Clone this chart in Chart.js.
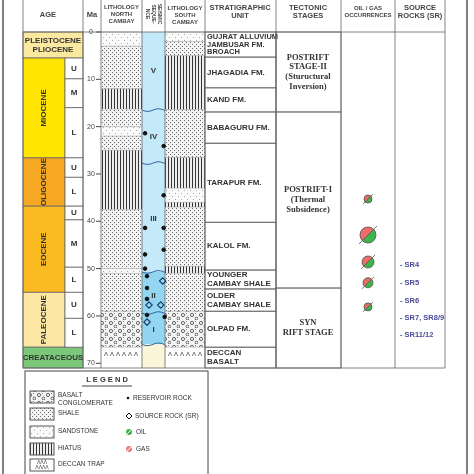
<!DOCTYPE html>
<html><head><meta charset="utf-8">
<script src="https://cdn.jsdelivr.net/npm/chart.js@4"></script>
<style>html,body{margin:0;padding:0;background:#fff}#c{display:block}</style>
</head><body><canvas id="c" width="474" height="474"></canvas>
<script>
// ---- DATA ----
const maTicks=[0,10,20,30,40,50,60,70];
const epochs=[{n:'PLEISTOCENE\nPLIOCENE',a:0,b:5.5,c:'#FBE9A0',full:true},{n:'MIOCENE',a:5.5,b:26.6,c:'#FFE500'},{n:'OLIGOCENE',a:26.6,b:36.8,c:'#F7A823'},{n:'EOCENE',a:36.8,b:55,c:'#F9BA22'},{n:'PALEOCENE',a:55,b:66.6,c:'#FCE8A4'},{n:'CREATACEOUS',a:66.6,b:71,c:'#7CC87A',full:true}];
const subEpochs=[['U',5.5,9.9],['M',9.9,16],['L',16,26.6],['U',26.6,30.7],['L',30.7,36.8],['U',36.8,39.7],['M',39.7,49.7],['L',49.7,55],['U',55,60.5],['L',60.5,66.6]];
const stratUnits=[['GUJRAT ALLUVIUM\nJAMBUSAR FM.\nBROACH',0,5.3],['JHAGADIA FM.',5.3,11.8],['KAND FM.',11.8,16.9],['BABAGURU FM.',16.9,23.5],['TARAPUR FM.',23.5,40.2],['KALOL FM.',40.2,50.3],['YOUNGER\nCAMBAY SHALE',50.3,54.3],['OLDER\nCAMBAY SHALE',54.3,59],['OLPAD FM.',59,66.6],['DECCAN\nBASALT',66.6,71]];
const tectonic=[['POSTRIFT\nSTAGE-II\n(Stuructural\nInversion)',0,16.9],['POSTRIFT-I\n(Thermal\nSubsidence)',16.9,54.1],['SYN\nRIFT STAGE',54.1,71]];
const seqBreaks=[16.5,27.7,50.7,59.4,66];
const seqLabels=[['V',8.2],['IV',22.2],['III',39.5],['II',55.8],['I',63]];
const reservoirX=[143,162,162,143,162,162,143,143,145,145,145,145,163];
const reservoirMa=[21.4,24.1,34.5,41.4,41.4,46,47,50,51.6,54.1,56.4,59.8,60.2];
const sourceX=[161,147,159,145];
const sourceMa=[52.6,57.7,57.7,61.3];
const oilGasMa=[35.3,42.9,48.6,53,58.1];
const oilGasSize=[4,8,6,5,4];
const srLabels=[['- SR4',49.3],['- SR5',53],['- SR6',56.9],['- SR7, SR8/9',60.5],['- SR11/12',64]];
const lithNorth=[['sand',0,3],['shale',3,12],['hiatus',12,16.3],['shale',16.3,20],['sand',20,22],['shale',22,25],['hiatus',25,37.5],['shale',37.5,50],['sand',50,51],['shale',51,59],['cong',59,66.6],['trap',66.6,71]];
const lithSouth=[['sand',0,2],['shale',2,5],['hiatus',5,16.4],['shale',16.4,26.5],['hiatus',26.5,33],['sand',33,36],['hiatus',36,37],['shale',37,49.5],['hiatus',49.5,51],['shale',51,59],['cong',59,66.6],['trap',66.6,71]];

const COL={ep:[23,65],sub:[65,83],ma:[83,101],ln:[101,142],sq:[142,165],ls:[165,205],st:[205,276],te:[276,341],og:[341,395],sr:[395,445]};
const F='"Liberation Sans",Arial,sans-serif';

function pat(type){
  const p=document.createElement('canvas');const g=p.getContext('2d');
  if(type==='shale'){p.width=4;p.height=4;g.fillStyle='#f4f4f4';g.fillRect(0,0,4,4);g.fillStyle='#666';g.fillRect(0,0,1,1);g.fillRect(2,2,1,1);}
  else if(type==='sand'){p.width=6;p.height=6;g.fillStyle='#fafafa';g.fillRect(0,0,6,6);g.fillStyle='#aaa';g.fillRect(1,1,1,1);g.fillRect(4,4,1,1);}
  else if(type==='hiatus'){p.width=3;p.height=3;g.fillStyle='#eee';g.fillRect(0,0,3,3);g.fillStyle='#333';g.fillRect(0,0,1,3);}
  else if(type==='cong'){p.width=9;p.height=8;g.fillStyle='#f5f5f5';g.fillRect(0,0,9,8);g.strokeStyle='#444';g.lineWidth=0.8;g.beginPath();g.arc(3,3,1.6,0,7);g.stroke();g.beginPath();g.arc(7.5,6.5,1.4,0,7);g.stroke();g.fillStyle='#777';g.fillRect(6,1,1,1);}
  else {p.width=1;p.height=1;g.fillStyle='#fff';g.fillRect(0,0,1,1);}
  return p;
}
function txt(ctx,s,x,y,font,color,align,lhf){ctx.font=font;ctx.fillStyle=color||'#222';ctx.textAlign=align||'center';ctx.textBaseline='middle';const L=s.split('\n');const lh=parseFloat(font.match(/([\d.]+)px/)[1])*(lhf||1.15);L.forEach((l,i)=>ctx.fillText(l,x,y+(i-(L.length-1)/2)*lh));}

const table={id:'table',beforeDatasetsDraw(chart){
  const ctx=chart.ctx,ys=chart.scales.y;const Y=v=>ys.getPixelForValue(v);
  const top=Y(0),bot=Y(71);
  ctx.save();
  ctx.fillStyle='#fff';ctx.fillRect(0,0,474,474);
  ctx.strokeStyle='#555';ctx.lineWidth=1.5;ctx.strokeRect(3,-2,464,480);
  epochs.forEach(e=>{const w=(e.full?COL.sub[1]:COL.ep[1])-COL.ep[0];ctx.fillStyle=e.c;ctx.fillRect(COL.ep[0],Y(e.a),w,Y(e.b)-Y(e.a));
    ctx.strokeStyle='#666';ctx.lineWidth=0.8;ctx.strokeRect(COL.ep[0],Y(e.a),w,Y(e.b)-Y(e.a));
    const cx=COL.ep[0]+w/2,cy=(Y(e.a)+Y(e.b))/2;
    if(e.full)txt(ctx,e.n,cx,cy,'bold 8px '+F,'#333');
    else{ctx.save();ctx.translate(cx,cy);ctx.rotate(-Math.PI/2);txt(ctx,e.n,0,0,'bold 8px '+F,'#333');ctx.restore();}});
  subEpochs.forEach(s=>{ctx.fillStyle='#fff';ctx.fillRect(COL.sub[0],Y(s[1]),18,Y(s[2])-Y(s[1]));ctx.strokeStyle='#666';ctx.strokeRect(COL.sub[0],Y(s[1]),18,Y(s[2])-Y(s[1]));txt(ctx,s[0],74,(Y(s[1])+Y(s[2]))/2,'bold 8px '+F,'#333');});
  maTicks.forEach(t=>{const y=Y(t);ctx.strokeStyle='#444';ctx.lineWidth=1;ctx.beginPath();ctx.moveTo(96,y);ctx.lineTo(101,y);ctx.stroke();txt(ctx,String(t),91,y,'7px '+F,'#444');});
  const drawLith=(arr,c)=>arr.forEach(l=>{const [t,a,b]=l;ctx.fillStyle=ctx.createPattern(pat(t),'repeat');ctx.fillRect(c[0],Y(a),c[1]-c[0],Y(b)-Y(a));
    ctx.strokeStyle='#999';ctx.lineWidth=0.5;ctx.beginPath();ctx.moveTo(c[0],Y(a));ctx.lineTo(c[1],Y(a));ctx.stroke();
    if(t==='trap'){for(let x=c[0]+5;x<c[1]-3;x+=6)txt(ctx,'Λ',x,Y(a)+7,'6px '+F,'#333');}});
  drawLith(lithNorth,COL.ln);drawLith(lithSouth,COL.ls);
  ctx.fillStyle='#C4E9F8';ctx.fillRect(COL.sq[0],top,23,Y(50.7)-top);
  ctx.fillStyle='#92D6F2';ctx.fillRect(COL.sq[0],Y(50.7),23,Y(66)-Y(50.7));
  ctx.fillStyle='#FBF6DA';ctx.fillRect(COL.sq[0],Y(66),23,bot-Y(66));
  ctx.strokeStyle='#2a5b9a';ctx.lineWidth=0.9;
  seqBreaks.forEach(v=>{const y=Y(v);ctx.beginPath();for(let x=COL.sq[0];x<=COL.sq[1];x++){const yy=y+1.3*Math.sin((x-COL.sq[0])/3.5);x===COL.sq[0]?ctx.moveTo(x,yy):ctx.lineTo(x,yy);}ctx.stroke();});
  seqLabels.forEach(s=>txt(ctx,s[0],153.5,Y(s[1]),'bold 8px '+F,'#333'));
  ctx.strokeStyle='#666';ctx.lineWidth=0.8;
  stratUnits.forEach((s,i)=>{ctx.strokeRect(COL.st[0],Y(s[1]),71,Y(s[2])-Y(s[1]));txt(ctx,s[0],COL.st[0]+2,(Y(s[1])+Y(s[2]))/2,'bold '+(i===0?'7.5':'8')+'px '+F,'#333','left',i===0?1.05:1.1);});
  tectonic.forEach(s=>{ctx.strokeRect(COL.te[0],Y(s[1]),65,Y(s[2])-Y(s[1]));txt(ctx,s[0],308,(Y(s[1])+Y(s[2]))/2,'bold 8.5px "Liberation Serif",serif','#333');});
  ctx.strokeStyle='#666';ctx.lineWidth=0.8;
  [COL.ep[0],COL.ma[0],COL.ln[0],COL.sq[0],COL.ls[0],COL.st[0],COL.te[0],COL.og[0],COL.sr[0],COL.sr[1]].forEach(x=>{ctx.beginPath();ctx.moveTo(x,0);ctx.lineTo(x,bot);ctx.stroke();});
  ctx.beginPath();ctx.moveTo(COL.ep[0],top);ctx.lineTo(COL.sr[1],top);ctx.moveTo(COL.ep[0],bot);ctx.lineTo(COL.sr[1],bot);ctx.stroke();
  const H=[['AGE',48,15],['Ma',92,15],['LITHOLOGY\nNORTH\nCAMBAY',121.5,14],['LITHOLOGY\nSOUTH\nCAMBAY',185,15],['STRATIGRAPHIC\nUNIT',240,12],['TECTONIC\nSTAGES',308,12],['OIL / GAS\nOCCURRENCES',368,12],['SOURCE\nROCKS (SR)',420,12]];
  H.forEach((h,i)=>txt(ctx,h[0],h[1],h[2],'bold '+([2,3,6].includes(i)?'6':'7.5')+'px '+F,'#444'));
  ctx.save();ctx.translate(153.5,14);ctx.rotate(Math.PI/2);txt(ctx,'SEISMIC\nSEQUE-\nNCE',0,0,'bold 5px '+F,'#444');ctx.restore();
  srLabels.forEach(s=>txt(ctx,s[0],400,Y(s[1]),'bold 7.5px '+F,'#4a4a9a','left'));
  oilGasMa.forEach((v,i)=>{const x=368,y=Y(v),r=oilGasSize[i];ctx.fillStyle='#3cb54a';ctx.beginPath();ctx.arc(x,y,r,0,Math.PI*2);ctx.fill();
    ctx.fillStyle='#ee6b6b';ctx.beginPath();ctx.arc(x,y,r,Math.PI*0.75,Math.PI*1.75);ctx.fill();
    ctx.strokeStyle='#555';ctx.lineWidth=0.8;ctx.beginPath();ctx.arc(x,y,r,0,7);ctx.stroke();ctx.beginPath();ctx.moveTo(x-r-1,y+r+1);ctx.lineTo(x+r+1,y-r-1);ctx.stroke();});
  ctx.strokeStyle='#444';ctx.lineWidth=1;ctx.strokeRect(25,371,183,106);
  txt(ctx,'L E G E N D',107,380,'bold 7.5px '+F,'#333');ctx.beginPath();ctx.moveTo(82,386);ctx.lineTo(132,386);ctx.stroke();
  const lg=[['cong','BASALT\nCONGLOMERATE',397],['shale','SHALE',414],['sand','SANDSTONE',432],['hiatus','HIATUS',449],['trap','DECCAN TRAP',465]];
  lg.forEach(l=>{ctx.fillStyle=ctx.createPattern(pat(l[0]),'repeat');ctx.fillRect(30,l[2]-6,24,12);ctx.strokeStyle='#555';ctx.strokeRect(30,l[2]-6,24,12);
    if(l[0]==='trap'){txt(ctx,'ΛΛΛ',42,l[2]-2,'5px '+F,'#333');txt(ctx,'ΛΛΛΛ',42,l[2]+3,'5px '+F,'#333');}
    txt(ctx,l[1],58,l[2]+(l[0]==='cong'?2:-1),'6.5px '+F,'#333','left');});
  txt(ctx,'RESERVOIR ROCK',133,398,'6.5px '+F,'#333','left');ctx.fillStyle='#111';ctx.beginPath();ctx.arc(128,398,1.3,0,7);ctx.fill();
  txt(ctx,'SOURCE ROCK (SR)',135,416,'6.5px '+F,'#333','left');ctx.strokeStyle='#111';ctx.beginPath();ctx.moveTo(129,413);ctx.lineTo(132,416);ctx.lineTo(129,419);ctx.lineTo(126,416);ctx.closePath();ctx.stroke();
  [['OIL','#3cb54a',432],['GAS','#ee7b7b',449]].forEach(o=>{ctx.fillStyle=o[1];ctx.beginPath();ctx.arc(129,o[2],3,0,7);ctx.fill();ctx.strokeStyle='#fff';ctx.beginPath();ctx.moveTo(127,o[2]+2);ctx.lineTo(131,o[2]-2);ctx.stroke();txt(ctx,o[0],136,o[2],'6.5px '+F,'#333','left');});
  ctx.restore();
}};

new Chart(document.getElementById('c'),{type:'scatter',
  data:{datasets:[
    {data:reservoirX.map((x,i)=>({x,y:reservoirMa[i]})),pointStyle:'circle',pointRadius:1.8,backgroundColor:'#111',borderColor:'#111'},
    {data:sourceX.map((x,i)=>({x,y:sourceMa[i]})),pointStyle:'rectRot',pointRadius:3.2,backgroundColor:'rgba(0,0,0,0)',borderColor:'#1a3a6a',borderWidth:1.2}
  ]},
  options:{responsive:false,animation:false,events:[],layout:{padding:{left:0,right:0,top:32,bottom:106}},
    plugins:{legend:{display:false},tooltip:{enabled:false}},
    scales:{x:{type:'linear',min:0,max:474,display:false},y:{type:'linear',min:0,max:71,reverse:true,display:false}}},
  plugins:[table]});
</script></body></html>
